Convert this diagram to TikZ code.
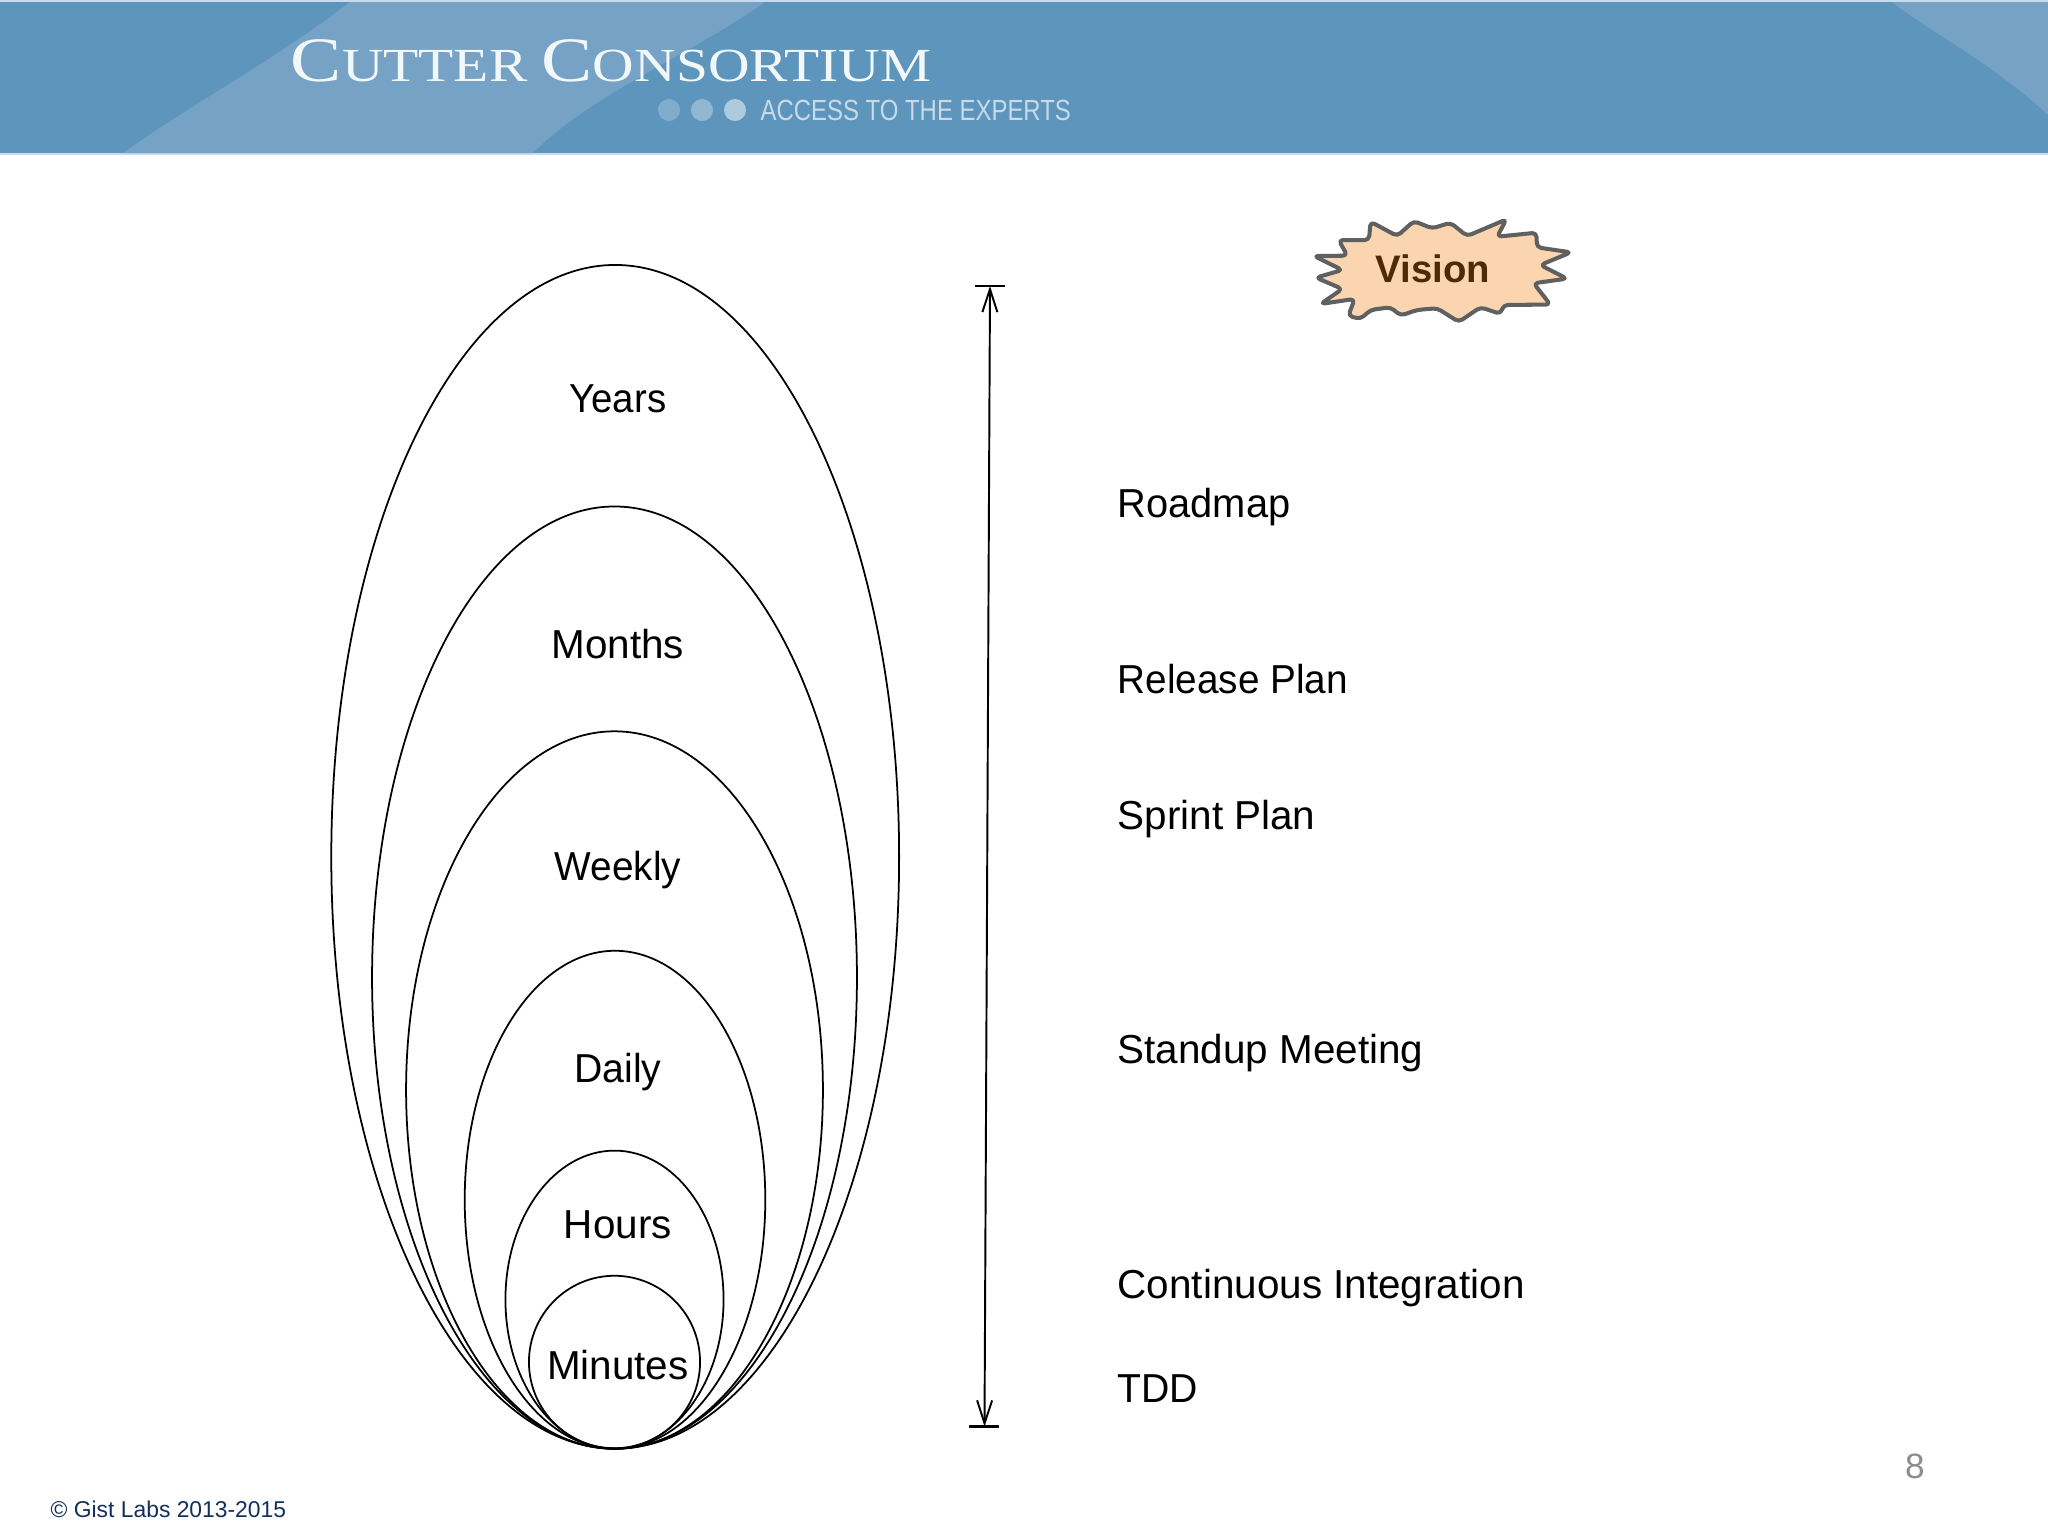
\documentclass[tikz,border=0pt]{standalone}
\usepackage{fontspec}
\setmainfont{Liberation Sans}
\newfontfamily\serifhead{Liberation Serif}
\usetikzlibrary{arrows.meta,shapes.geometric}
\definecolor{bandbase}{HTML}{5E95BC}
\definecolor{bandlight}{HTML}{76A3C5}
\definecolor{bandedge}{HTML}{C6DCF0}
\definecolor{burstfill}{HTML}{FBD5B0}
\definecolor{burstline}{HTML}{606060}
\definecolor{burstink}{HTML}{4F2A08}
\definecolor{footink}{HTML}{12305E}
\tikzset{
  x=0.01cm,y=-0.01cm,
  scale ring/.style={draw=black,line width=0.5pt,ellipse,inner sep=0pt,outer sep=0pt},
  big label/.style={font=\fontsize{11.5pt}{13pt}\selectfont,text=black,inner sep=0pt},
  scale arrow/.style={draw=black,line width=0.55pt,{Straight Barb[length=0.23cm,width=0.15cm]}-{Straight Barb[length=0.23cm,width=0.15cm]}},
  end bar/.style={draw=black,line width=0.6pt},
}
\begin{document}
\begin{tikzpicture}
\useasboundingbox (0,0) rectangle (2048,1536);
\fill[white] (0,0) rectangle (2048,1536);
% header band
\fill[bandedge] (0,0) rectangle (2048,155);
\fill[bandbase] (0,2) rectangle (2048,153);
\fill[bandlight] (350,2) .. controls (275,60) and (190,105) .. (123,153) -- (533,153) .. controls (590,95) and (690,55) .. (765,2) -- cycle;
\fill[bandlight] (1892,2) .. controls (1935,35) and (1995,65) .. (2048,115) -- (2048,2) -- cycle;
\node[text=white!92!bandbase,anchor=base west,inner sep=0pt,xscale=1.212,transform shape] (brand) at (290,81)
  {\serifhead\fontsize{18pt}{18pt}\selectfont C\fontsize{13.5pt}{18pt}\selectfont UTTER \fontsize{18pt}{18pt}\selectfont C\fontsize{13.5pt}{18pt}\selectfont ONSORTIUM};
\node[fill=white,fill opacity=0.22,circle,minimum size=0.22cm,inner sep=0pt] (dota) at (669,110) {};
\node[fill=white,fill opacity=0.32,circle,minimum size=0.22cm,inner sep=0pt] (dotb) at (702,110) {};
\node[fill=white,fill opacity=0.5,circle,minimum size=0.22cm,inner sep=0pt] (dotc) at (735,110) {};
\node[text=white!65!bandbase,anchor=base west,inner sep=0pt,xscale=0.82,transform shape,font=\fontsize{8.3pt}{10pt}\selectfont] (tagline) at (760,120) {ACCESS TO THE EXPERTS};
% nested ellipses
\node[scale ring,minimum width=5.675cm,minimum height=11.83cm] (years) at (615.2,856.8) {};
\node[scale ring,minimum width=4.846cm,minimum height=9.417cm] (months) at (614.5,977.6) {};
\node[scale ring,minimum width=4.166cm,minimum height=7.17cm] (weekly) at (614.5,1090) {};
\node[scale ring,minimum width=3.004cm,minimum height=4.976cm] (daily) at (615,1199.7) {};
\node[scale ring,minimum width=2.18cm,minimum height=2.978cm] (hours) at (614.5,1299.6) {};
\node[scale ring,minimum width=1.71cm,minimum height=1.724cm] (minutes) at (614.5,1362) {};
\node[big label,anchor=base,xscale=0.95,transform shape] (lyears) at (617.8,412.7) {Years};
\node[big label,anchor=base] (lmonths) at (617.8,658.3) {Months};
\node[big label,anchor=base,xscale=0.96,transform shape] (lweekly) at (617.8,880.3) {Weekly};
\node[big label,anchor=base,xscale=0.97,transform shape] (ldaily) at (617.8,1082.8) {Daily};
\node[big label,anchor=base] (lhours) at (617.8,1238.2) {Hours};
\node[big label,anchor=base] (lminutes) at (617.8,1379.3) {Minutes};
% scale arrow
\coordinate (atop) at (990,286);
\coordinate (abot) at (984.5,1426.5);
\coordinate (ttl) at (975,286);
\coordinate (ttr) at (1005,286);
\coordinate (tbl) at (969.3,1426.5);
\coordinate (tbr) at (999.3,1426.5);
\draw[scale arrow] (atop) -- (abot);
\draw[end bar] (ttl) -- (ttr);
\draw[end bar] (tbl) -- (tbr);
% right labels
\node[big label,anchor=base west,xscale=0.985,transform shape] (roadmap) at (1117,517) {Roadmap};
\node[big label,anchor=base west,xscale=0.957,transform shape] (release) at (1117,693.2) {Release Plan};
\node[big label,anchor=base west] (sprint) at (1117,829.9) {Sprint Plan};
\node[big label,anchor=base west] (standup) at (1117,1063.2) {Standup Meeting};
\node[big label,anchor=base west] (ci) at (1117,1298.3) {Continuous Integration};
\node[big label,anchor=base west,xscale=0.97,transform shape] (tdd) at (1117,1402.4) {TDD};
% vision burst
\begin{scope}[xshift=12.8cm,yshift=-1.9cm,x=0.0033333cm,y=-0.0033333cm]
\draw[fill=burstfill,draw=burstline,line width=1.15pt,line join=round,rounded corners=1.2pt]
 (100,198) -- (200,197) -- (174,150) -- (265,150) -- (270,95) -- (350,138) -- (400,93) -- (455,115) -- (510,98) -- (560,138) -- (678,88) -- (650,140) -- (768,128) -- (770,172) -- (872,187) -- (780,225) -- (860,266) -- (760,280) -- (810,344) -- (670,345) -- (660,372) -- (600,352) -- (535,396) -- (470,355) -- (410,360) -- (360,377) -- (330,352) -- (270,360) -- (240,387) -- (203,378) -- (222,327) -- (120,342) -- (185,297) -- (106,263) -- (185,240) -- cycle;
\end{scope}
\node[anchor=base,inner sep=0pt,text=burstink,font=\fontsize{10.9pt}{12pt}\selectfont\bfseries] (vision) at (1432.7,282.7) {Vision};
% footer
\node[anchor=base west,inner sep=0pt,text=footink,font=\fontsize{6.5pt}{8pt}\selectfont] (copyright) at (50,1517) {© Gist Labs 2013-2015};
\node[anchor=base,inner sep=0pt,text=black!45,font=\fontsize{10pt}{12pt}\selectfont] (pagenum) at (1915,1478) {8};
\end{tikzpicture}
\end{document}
